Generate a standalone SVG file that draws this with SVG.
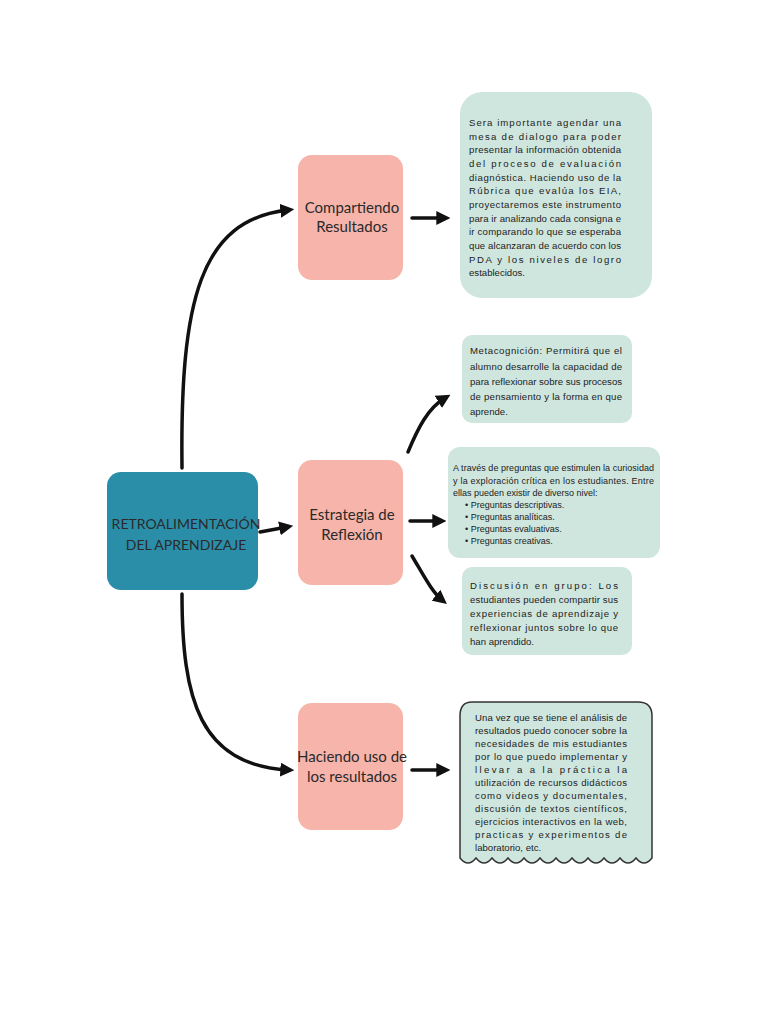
<svg xmlns="http://www.w3.org/2000/svg" width="768" height="1024" viewBox="0 0 768 1024">
<style>
.pink{fill:#f7b4aa}
.mint{fill:#cfe6de}
.hd{font-family:Lato,"Liberation Sans",sans-serif;font-size:15px;fill:#2a2a2a;text-anchor:middle}
.t{font-family:"Liberation Sans",sans-serif;font-size:9.6px;fill:#222}
.t3{font-family:"Liberation Sans",sans-serif;font-size:9px;fill:#222}
.c{fill:none;stroke:#111;stroke-width:3.5;stroke-linecap:round}
</style>
<defs>
<marker id="ah" markerWidth="4" markerHeight="4" refX="2.2" refY="2" orient="auto" markerUnits="strokeWidth">
<path d="M0,0 L4,2 L0,4 Z" fill="#111"/>
</marker>
</defs>
<rect width="768" height="1024" fill="#fff"/>
<g id="connectors">
<path class="c" d="M182,468 C180,300 200,220 288,210" marker-end="url(#ah)"/>
<path class="c" d="M182,594 C182,700 200,765 288,770" marker-end="url(#ah)"/>
<path class="c" d="M260,532 L287,527" marker-end="url(#ah)"/>
<path class="c" d="M412,218 L444,218" marker-end="url(#ah)"/>
<path class="c" d="M410,521 L440,521" marker-end="url(#ah)"/>
<path class="c" d="M412,770 L444,770" marker-end="url(#ah)"/>
<path class="c" d="M408,452 C418,428 428,408 445,398" marker-end="url(#ah)"/>
<path class="c" d="M412,556 C424,576 432,592 442,600" marker-end="url(#ah)"/>
</g>
<g id="n-root">
<rect x="107" y="472" width="151" height="118" rx="14" fill="#2b8ea9"/>
<text class="hd" x="186" y="529" style="font-size:14px">RETROALIMENTACIÓN</text>
<text class="hd" x="186" y="550" style="font-size:14px">DEL APRENDIZAJE</text>
</g>
<g id="n-comp">
<rect class="pink" x="298" y="155" width="105" height="125" rx="14"/>
<text class="hd" x="352" y="213">Compartiendo</text>
<text class="hd" x="352" y="232">Resultados</text>
</g>
<g id="n-estr">
<rect class="pink" x="298" y="460" width="105" height="125" rx="14"/>
<text class="hd" x="352" y="520">Estrategia de</text>
<text class="hd" x="352" y="540">Reflexión</text>
</g>
<g id="n-hac">
<rect class="pink" x="298" y="703" width="105" height="127" rx="14"/>
<text class="hd" x="352" y="762">Haciendo uso de</text>
<text class="hd" x="352" y="782">los resultados</text>
</g>
<g id="n-box1">
<rect class="mint" x="460" y="92" width="192" height="206" rx="22"/>
<g class="t">
<text x="469" y="126" textLength="152" lengthAdjust="spacing">Sera importante agendar una</text>
<text x="469" y="140" textLength="152" lengthAdjust="spacing">mesa de dialogo para poder</text>
<text x="469" y="153" textLength="152" lengthAdjust="spacing">presentar la información obtenida</text>
<text x="469" y="167" textLength="152" lengthAdjust="spacing">del proceso de evaluación</text>
<text x="469" y="181" textLength="152" lengthAdjust="spacing">diagnóstica. Haciendo uso de la</text>
<text x="469" y="194" textLength="152" lengthAdjust="spacing">Rúbrica que evalúa los EIA,</text>
<text x="469" y="208" textLength="152" lengthAdjust="spacing">proyectaremos este instrumento</text>
<text x="469" y="222" textLength="152" lengthAdjust="spacing">para ir analizando cada consigna e</text>
<text x="469" y="235" textLength="152" lengthAdjust="spacing">ir comparando lo que se esperaba</text>
<text x="469" y="249" textLength="152" lengthAdjust="spacing">que alcanzaran de acuerdo con los</text>
<text x="469" y="263" textLength="152" lengthAdjust="spacing">PDA y los niveles de logro</text>
<text x="469" y="276">establecidos.</text>
</g>
</g>
<g id="n-box2">
<rect class="mint" x="462" y="335" width="170" height="88" rx="10"/>
<g class="t">
<text x="470" y="354" textLength="152" lengthAdjust="spacing">Metacognición: Permitirá que el</text>
<text x="470" y="370" textLength="152" lengthAdjust="spacing">alumno desarrolle la capacidad de</text>
<text x="470" y="385" textLength="152" lengthAdjust="spacing">para reflexionar sobre sus procesos</text>
<text x="470" y="400" textLength="152" lengthAdjust="spacing">de pensamiento y la forma en que</text>
<text x="470" y="415">aprende.</text>
</g>
</g>
<g id="n-box3">
<rect class="mint" x="448" y="447" width="212" height="111" rx="12"/>
<g class="t3">
<text x="453" y="471" textLength="201" lengthAdjust="spacing">A través de preguntas que estimulen la curiosidad</text>
<text x="453" y="484" textLength="201" lengthAdjust="spacing">y la exploración crítica en los estudiantes. Entre</text>
<text x="453" y="496">ellas pueden existir de diverso nivel:</text>
<text x="465" y="508">•  Preguntas descriptivas.</text>
<text x="465" y="520">•  Preguntas analíticas.</text>
<text x="465" y="532">•  Preguntas evaluativas.</text>
<text x="465" y="544">•  Preguntas creativas.</text>
</g>
</g>
<g id="n-box4">
<rect class="mint" x="462" y="567" width="170" height="88" rx="10"/>
<g class="t">
<text x="470" y="589" textLength="148" lengthAdjust="spacing">Discusión en grupo: Los</text>
<text x="470" y="603" textLength="148" lengthAdjust="spacing">estudiantes pueden compartir sus</text>
<text x="470" y="617" textLength="148" lengthAdjust="spacing">experiencias de aprendizaje y</text>
<text x="470" y="631" textLength="148" lengthAdjust="spacing">reflexionar juntos sobre lo que</text>
<text x="470" y="645">han aprendido.</text>
</g>
</g>
<g id="n-box5">
<path class="mint" d="M474,702 H640 Q654,702 654,716 V858 q-8,10 -16,0 q-8,10 -16,0 q-8,10 -16,0 q-8,10 -16,0 q-8,10 -16,0 q-8,10 -16,0 q-8,10 -16,0 q-8,10 -16,0 q-8,10 -16,0 q-8,10 -16,0 q-8,10 -16,0 q-8,10 -16,0 V716 Q462,702 474,702 Z" transform="translate(-2,0)" stroke="#333" stroke-width="1.5"/>
<g class="t">
<text x="475" y="721" textLength="152" lengthAdjust="spacing">Una vez que se tiene el análisis de</text>
<text x="475" y="734" textLength="152" lengthAdjust="spacing">resultados puedo conocer sobre la</text>
<text x="475" y="747" textLength="152" lengthAdjust="spacing">necesidades de mis estudiantes</text>
<text x="475" y="760" textLength="152" lengthAdjust="spacing">por lo que puedo implementar y</text>
<text x="475" y="773" textLength="152" lengthAdjust="spacing">llevar a a la práctica la</text>
<text x="475" y="786" textLength="152" lengthAdjust="spacing">utilización de recursos didácticos</text>
<text x="475" y="799" textLength="152" lengthAdjust="spacing">como videos y documentales,</text>
<text x="475" y="812" textLength="152" lengthAdjust="spacing">discusión de textos científicos,</text>
<text x="475" y="825" textLength="152" lengthAdjust="spacing">ejercicios interactivos en la web,</text>
<text x="475" y="838" textLength="152" lengthAdjust="spacing">practicas y experimentos de</text>
<text x="475" y="851">laboratorio, etc.</text>
</g>
</g>
</svg>
